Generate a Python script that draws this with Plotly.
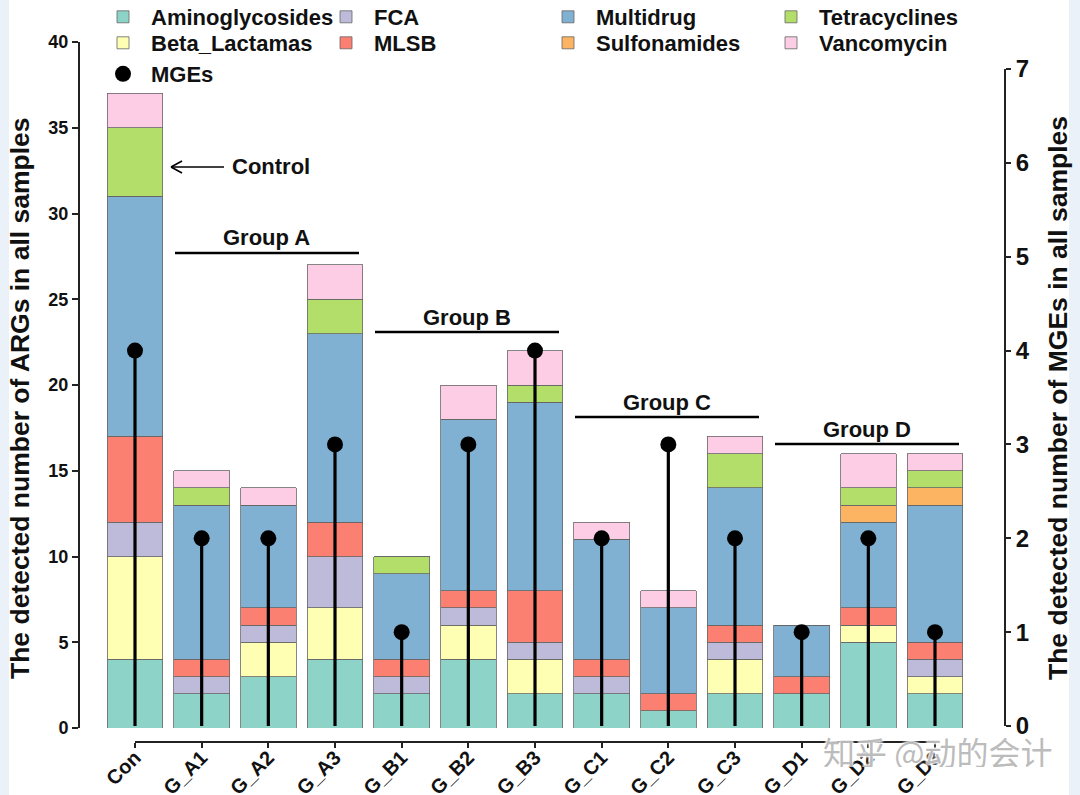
import plotly.graph_objects as go

FONT = 'Liberation Sans'
INK = '#111111'
WIDTH = 1080
HEIGHT = 795

samples = ['Con', 'G_A1', 'G_A2', 'G_A3', 'G_B1', 'G_B2', 'G_B3',
           'G_C1', 'G_C2', 'G_C3', 'G_D1', 'G_D2', 'G_D3']

aminoglycosides = [4, 2, 3, 4, 2, 4, 2, 2, 1, 2, 2, 5, 2]
beta_lactamas = [6, 0, 2, 3, 0, 2, 2, 0, 0, 2, 0, 1, 1]
fca = [2, 1, 1, 3, 1, 1, 1, 1, 0, 1, 0, 0, 1]
mlsb = [5, 1, 1, 2, 1, 1, 3, 1, 1, 1, 1, 1, 1]
multidrug = [14, 9, 6, 11, 5, 10, 11, 7, 5, 8, 3, 5, 8]
sulfonamides = [0, 0, 0, 0, 0, 0, 0, 0, 0, 0, 0, 1, 1]
tetracyclines = [4, 1, 0, 2, 1, 0, 1, 0, 0, 2, 0, 1, 1]
vancomycin = [2, 1, 1, 2, 0, 2, 2, 1, 1, 1, 0, 2, 1]
mges = [4, 2, 2, 3, 1, 3, 4, 2, 3, 2, 1, 2, 1]

y_ticks_args = [0, 5, 10, 15, 20, 25, 30, 35, 40]
y_ticks_mges = [0, 1, 2, 3, 4, 5, 6, 7]


def px(x):
    return x / WIDTH


def py(y):
    return 1 - y / HEIGHT


# name, values, colour
series = [
    ('Aminoglycosides', aminoglycosides, '#8DD3C7'),
    ('Beta_Lactamas', beta_lactamas, '#FFFFB3'),
    ('FCA', fca, '#BEBADA'),
    ('MLSB', mlsb, '#FB8072'),
    ('Multidrug', multidrug, '#80B1D3'),
    ('Sulfonamides', sulfonamides, '#FDB462'),
    ('Tetracyclines', tetracyclines, '#B3DE69'),
    ('Vancomycin', vancomycin, '#FCCDE5'),
]

# one legend per entry, the rows are tighter than a plotly legend allows (left edge, row centre)
legend_spots = [(95, 17), (95, 43), (318, 17), (318, 43), (540, 17), (540, 43), (763, 17), (763, 43), (95, 74)]
legend_names = ['legend'] + [f'legend{i}' for i in range(2, 10)]

fig = go.Figure()
for (name, values, colour), legend in zip(series, legend_names):
    fig.add_trace(go.Bar(
        x=samples, y=values, name=name, legend=legend,
        marker=dict(color=colour, line=dict(color='#666666', width=0.8))))

fig.add_trace(go.Scatter(
    x=samples, y=mges, name='MGEs', yaxis='y2', mode='markers', legend=legend_names[-1],
    marker=dict(color='black', size=16),
    error_y=dict(type='data', symmetric=False, array=[0] * len(mges), arrayminus=mges,
                 color='black', thickness=3.2, width=0),
    cliponaxis=False))

axis_style = dict(showgrid=False, zeroline=False, linecolor='#222222', linewidth=2,
                  ticks='outside', tickcolor='#222222', tickwidth=2, anchor='free')

legend_style = dict(font=dict(family=FONT, size=22, color=INK, weight='bold'), itemwidth=46,
                    bgcolor='rgba(0,0,0,0)', xanchor='left', yanchor='top', itemclick=False)
legends = {name: dict(x=px(x), y=py(y - 21), **legend_style)
           for name, (x, y) in zip(legend_names, legend_spots)}

group_rules = [('Group A', 175, 359, 253), ('Group B', 375, 559, 332),
               ('Group C', 575, 759, 417), ('Group D', 775, 959, 444)]

shapes = [
    dict(type='rect', xref='paper', yref='paper', x0=0, x1=px(9), y0=0, y1=1,
         fillcolor='#EAF1F9', line_width=0, layer='below'),
    dict(type='rect', xref='paper', yref='paper', x0=px(1069), x1=1, y0=0, y1=1,
         fillcolor='#EAF1F9', line_width=0, layer='below'),
    # x axis only runs between the first and last tick
    dict(type='line', xref='x', yref='paper', x0=samples[0], x1=samples[-1], y0=py(742), y1=py(742),
         line=dict(color='#222222', width=2)),
]
annotations = []
label_style = dict(xref='paper', yref='paper', showarrow=False, xanchor='center', yanchor='middle',
                   font=dict(family=FONT, size=22, color=INK, weight='bold'))
for label, x0, x1, y in group_rules:
    shapes.append(dict(type='line', xref='paper', yref='paper', x0=px(x0), x1=px(x1), y0=py(y), y1=py(y),
                       line=dict(color='black', width=2.5)))
    annotations.append(dict(text=label, x=px((x0 + x1) / 2 - 0.5), y=py(y - 15), **label_style))

for x0, y0, x1, y1 in [(224, 167, 171, 167), (171, 167, 182, 161), (171, 167, 182, 173)]:
    shapes.append(dict(type='line', xref='paper', yref='paper', x0=px(x0), x1=px(x1), y0=py(y0), y1=py(y1),
                       line=dict(color='black', width=1.6)))
annotations.append(dict(text='Control', x=px(271), y=py(167), **label_style))

title_style = dict(xref='paper', yref='paper', showarrow=False, textangle=-90, xanchor='center', yanchor='middle',
                   font=dict(family=FONT, size=26.5, color=INK, weight='bold'))
annotations.append(dict(text='The detected number of ARGs in all samples', x=px(20), y=py(398), **title_style))
annotations.append(dict(text='The detected number of MGEs in all samples', x=px(1058), y=py(398), **title_style))

annotations.append(dict(text='知乎 @动的会计', x=px(937), y=py(751), xref='paper', yref='paper', showarrow=False,
                        xanchor='center', yanchor='middle', height=32,
                        font=dict(family='Noto Sans CJK SC', size=32, color='rgba(170,170,170,0.8)',
                                  shadow='1px 1px 2px white, -1px -1px 2px white, 1px -1px 2px white, -1px 1px 2px white')))

fig.update_layout(
    width=WIDTH, height=HEIGHT,
    margin=dict(l=0, r=0, t=0, b=0, autoexpand=False),
    paper_bgcolor='white', plot_bgcolor='rgba(0,0,0,0)',
    barmode='stack', bargap=0.165, showlegend=True,
    xaxis=dict(domain=[px(79), px(1005)], range=[-0.84, 13.05], type='category', position=py(742), ticklen=5,
               showline=False, tickangle=-45, ticklabelstandoff=-10,
               tickfont=dict(family=FONT, size=20, color=INK, weight='bold'), **axis_style),
    yaxis=dict(domain=[py(728), py(42)], range=[0, 40], position=px(79), ticklen=6, tickvals=y_ticks_args,
               showline=True, tickfont=dict(family=FONT, size=18, color=INK, weight='bold'), **axis_style),
    yaxis2=dict(domain=[py(726), py(69)], range=[0, 7], position=px(1005), side='right', ticklen=5,
                showline=True, tickvals=y_ticks_mges,
                tickfont=dict(family=FONT, size=24, color=INK, weight='bold'), **axis_style),
    shapes=shapes, annotations=annotations, **legends)

fig.write_html('out.html', post_script="document.body.style.margin='0';", config={'displayModeBar': False})
